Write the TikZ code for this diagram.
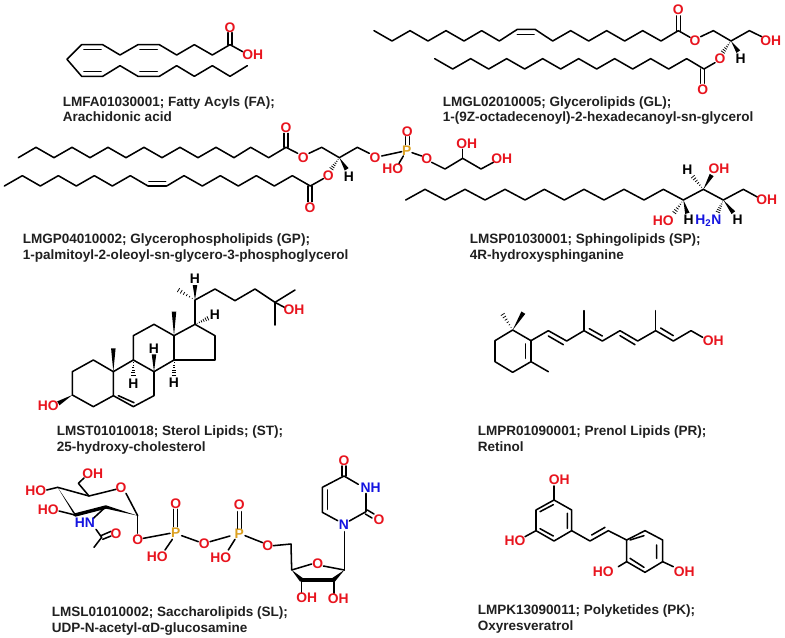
\documentclass[tikz,border=0pt]{standalone}
\usepackage{fontspec}
\setmainfont{Liberation Sans}
\usetikzlibrary{calc}
\definecolor{atomred}{HTML}{E8141E}
\definecolor{atomblue}{HTML}{1414E0}
\definecolor{atomgold}{HTML}{DCA020}
\definecolor{capcol}{HTML}{202020}
\newcount\labn
\tikzset{
  zm/.style n args={2}{shift={(#1,#2)},x=.25pt,y=-.25pt},
  atom/.style={font=\fontsize{10.4}{12}\selectfont\bfseries,inner sep=0pt,text=atomred},
  ath/.style={atom,text=black},
  atn/.style={atom,text=atomblue},
  atp/.style={atom,text=atomgold},
  captext/.style={anchor=base west,inner sep=0pt,text=capcol,font=\fontsize{10.15}{12}\selectfont\bfseries}
}
% labels
\newcommand\lab[3][atom]{\global\advance\labn by 1 \node[#1] (L\the\labn) at (#2) {#3};}
% bold wedge from narrow end #1 to wide end #2
\newcommand\wdg[2]{\fill (#1) -- ($(#2)!1.7pt!90:(#1)$) -- ($(#2)!1.7pt!-90:(#1)$) -- cycle;}
% hashed wedge
\newcommand\hsh[2]{\foreach \t [evaluate=\t as \d using \t*1.9] in {.15,.3,.45,.6,.75,.9,1}{
  \draw[line width=.55pt,line cap=butt] ($(#1)!\t!(#2)!\d pt!90:(#2)$) -- ($(#1)!\t!(#2)!\d pt!-90:(#2)$);}}
\begin{document}
\begin{tikzpicture}[x=.75pt,y=-.75pt,line width=1.15pt,line cap=round,line join=round]
\useasboundingbox (0,0) rectangle (785,638);
\fill[white] (0,0) rectangle (785,638);
% ---------- captions
\node[captext] (c1a) at (62,106.5) {LMFA01030001; Fatty Acyls (FA);};
\node[captext] (c1b) at (62,122) {Arachidonic acid};
\node[captext] (c2a) at (442,106.5) {LMGL02010005; Glycerolipids (GL);};
\node[captext] (c2b) at (442,122) {1-(9Z-octadecenoyl)-2-hexadecanoyl-sn-glycerol};
\node[captext] (c3a) at (22,243.5) {LMGP04010002; Glycerophospholipids (GP);};
\node[captext] (c3b) at (22,259) {1-palmitoyl-2-oleoyl-sn-glycero-3-phosphoglycerol};
\node[captext] (c4a) at (469,243) {LMSP01030001; Sphingolipids (SP);};
\node[captext] (c4b) at (469,259) {4R-hydroxysphinganine};
\node[captext] (c5a) at (56,435) {LMST01010018; Sterol Lipids; (ST);};
\node[captext] (c5b) at (56,451) {25-hydroxy-cholesterol};
\node[captext] (c6a) at (477,435) {LMPR01090001; Prenol Lipids (PR);};
\node[captext] (c6b) at (477,451) {Retinol};
\node[captext] (c7a) at (51,616) {LMSL01010002; Saccharolipids (SL);};
\node[captext] (c7b) at (51,632) {UDP-N-acetyl-αD-glucosamine};
\node[captext] (c8a) at (477,614) {LMPK13090011; Polyketides (PK);};
\node[captext] (c8b) at (477,630) {Oxyresveratrol};
% ---------- FA
\begin{scope}[zm={0}{0}]
\draw (728,155)--(690,134)--(637,165)--(583,134)--(530,165)--(478,134)--(414,134)--(360,165)--(308,134)--(245,134)--(201,178)--(245,229)--(308,229)--(360,197)--(414,229)--(478,229)--(530,197)--(583,229)--(637,197)--(690,229)--(742,197);
\draw (252,148)--(303,148) (420,148)--(472,148) (252,214)--(303,214) (420,214)--(472,214);
\draw (684,134)--(684,98) (696,134)--(696,98);
\lab{690,82}{O}\lab{758,165}{OH}
\end{scope}
% ---------- GL
\begin{scope}[zm={360}{0}]
\draw (42,92)--(96,123)--(150,92)--(204,123)--(258,92)--(312,123)--(365,92)--(418,123)--(472,88)--(525,88)--(578,123)--(632,92)--(686,123)--(740,92)--(794,123)--(848,92)--(903,123)--(955,92)--(990,112);
\draw (472,103)--(522,103);
\draw (949,92)--(949,48) (961,92)--(961,48);
\draw (1022,110)--(1060,92)--(1113,123)--(1168,92)--(1205,110);
\draw (224,176)--(278,207)--(332,176)--(386,207)--(440,176)--(494,207)--(548,176)--(602,207)--(656,176)--(710,207)--(764,176)--(818,207)--(872,176)--(926,207)--(980,176)--(1032,207)--(1065,188);
\draw (1022,207)--(1022,250) (1034,207)--(1034,250);
\hsh{1113,123}{1086,160}
\wdg{1113,123}{1135,155}
\lab{955,30}{O}\lab{1005,122}{O}\lab{1232,122}{OH}\lab{1080,176}{O}\lab[ath]{1142,175}{H}\lab{1028,268}{O}
\end{scope}
% ---------- GP
\begin{scope}[zm={0}{120}]
\draw (55,113)--(108,82)--(162,113)--(216,82)--(270,113)--(324,82)--(378,113)--(432,82)--(486,113)--(540,82)--(594,113)--(648,82)--(702,113)--(752,82)--(806,113)--(858,82)--(893,100);
\draw (852,82)--(852,40) (864,82)--(864,40);
\draw (927,100)--(965,82)--(1018,113)--(1072,82)--(1108,100);
\draw (1145,108)--(1205,95);
\draw (13,198)--(67,167)--(121,198)--(175,167)--(229,198)--(283,167)--(337,198)--(391,167)--(444,198)--(500,198)--(552,167)--(607,198)--(661,167)--(715,198)--(769,167)--(823,198)--(877,167)--(931,198)--(970,176);
\draw (447,184)--(497,184);
\draw (924,198)--(924,245) (936,198)--(936,245);
\hsh{1018,113}{992,150}
\wdg{1018,113}{1040,148}
\lab{858,22}{O}\lab{910,112}{O}\lab{1125,112}{O}\lab{985,167}{O}\lab[ath]{1047,170}{H}\lab{930,262}{O}
\end{scope}
% ---------- phosphoglycerol & sphingo
\begin{scope}[zm={400}{130}]
\lab[atp]{20,62}{P}
\draw (16,44)--(16,20) (28,44)--(28,20);
\draw (36,68)--(65,78);
\draw (95,97)--(135,117)--(188,85)--(243,117)--(280,97);
\draw (188,85)--(188,58);
\lab{22,6}{O}\lab{80,85}{O}\lab{200,40}{OH}\lab{305,85}{OH}
\lab{-22,115}{HO}
\draw (10,78)--(-3,100);
\draw (17,210)--(75,178)--(135,210)--(195,178)--(255,210)--(315,178)--(375,210)--(433,178)--(493,210)--(552,178)--(612,210)--(672,178)--(732,210)--(790,178)--(850,210)--(910,178)--(970,210)--(1030,178)--(1072,201);
\hsh{850,210}{820,252}
\wdg{850,210}{862,250}
\hsh{910,178}{875,136}
\wdg{910,178}{935,135}
\hsh{970,210}{952,250}
\wdg{970,210}{1000,248}
\lab[ath]{862,118}{H}\lab{957,117}{OH}\lab{790,272}{HO}\lab[ath]{866,270}{H}\lab[atn]{925,272}{H\textsubscript{2}N}\lab[ath]{1013,268}{H}\lab{1100,210}{OH}
\end{scope}
% ---------- sterol
\begin{scope}[zm={20}{265}]
\draw (157,390)--(157,320)--(220,285)--(280,320)--(280,392)--(220,425)--(157,390);
\draw (280,320)--(340,285)--(402,320)--(402,392)--(340,425)--(280,392);
\draw (295,392)--(342,413);
\draw (340,285)--(340,212)--(402,178)--(462,212)--(462,285)--(402,320);
\draw (462,212)--(525,178)--(585,212)--(585,285)--(462,285);
\wdg{280,320}{280,250}
\wdg{462,212}{462,140}
\draw (525,178)--(525,105)--(585,72)--(645,107)--(705,72)--(765,112)--(825,75);
\draw (765,112)--(765,180) (765,112)--(795,128);
\wdg{525,105}{525,60}
\hsh{525,105}{470,72}
\hsh{525,178}{568,158}
\hsh{340,285}{340,335}
\wdg{402,320}{402,268}
\hsh{462,285}{462,335}
\wdg{157,390}{115,415}
\lab[ath]{525,40}{H}\lab[ath]{585,150}{H}\lab{822,133}{OH}\lab[ath]{402,250}{H}\lab[ath]{340,355}{H}\lab[ath]{462,352}{H}\lab{85,423}{HO}
\end{scope}
% ---------- retinol
\begin{scope}[zm={480}{270}]
\draw (98,180)--(153,212)--(153,275)--(98,307)--(45,275)--(45,212)--cycle;
\draw (137,222)--(137,265);
\wdg{98,180}{130,128}
\hsh{98,180}{65,128}
\draw (153,275)--(205,305);
\draw (153,212)--(205,182)--(260,213)--(312,182)--(367,213)--(420,182)--(473,213)--(527,182)--(580,213)--(633,182)--(668,202);
\draw (312,182)--(312,122) (527,182)--(527,122);
\draw (205,198)--(250,224) (328,176)--(367,198) (420,197)--(465,224) (542,174)--(580,197);
\lab{700,213}{OH}
\end{scope}
% ---------- sugar
\begin{scope}[zm={10}{450}]
\draw (143,112)--(237,138)--(318,118);
\draw (348,130)--(383,197);
\fill (383,197)--(288,166)--(288,176)--cycle;
\draw[line width=2.6pt] (288,171)--(195,195);
\fill (143,112)--(190,190)--(200,197)--cycle;
\draw (237,138)--(205,100)--(222,84);
\draw (143,112)--(110,120) (195,195)--(147,183);
\draw (288,170)--(250,205);
\draw (258,238)--(275,262)--(252,292);
\draw (275,256)--(303,244) (278,268)--(303,258);
\draw (383,197)--(383,250);
\draw (400,265)--(480,250) (515,257)--(565,275) (600,275)--(660,258);
\draw (491,230)--(491,178) (503,230)--(503,178);
\draw (487,268)--(465,300);
\lab{333,113}{O}\lab{248,72}{OH}\lab{77,123}{HO}\lab{115,180}{HO}\lab[atn]{225,217}{HN}\lab{318,252}{O}\lab{383,268}{O}\lab[atp]{497,247}{P}\lab{497,162}{O}\lab{442,320}{HO}\lab{583,282}{O}
\end{scope}
\begin{scope}[zm={210}{450}]
\lab[atp]{88,250}{P}\lab{88,165}{O}\lab{32,322}{HO}\lab{173,287}{O}
\draw (82,235)--(82,185) (94,235)--(94,185);
\draw (75,268)--(55,300);
\draw (105,257)--(158,278);
\draw (190,287)--(243,282)--(245,360)--(305,342);
\draw (340,348)--(403,360);
\wdg{403,360}{370,390}
\draw[line width=2.6pt] (370,390)--(275,390);
\wdg{245,360}{275,390}
\draw (275,390)--(275,428) (372,390)--(372,430);
\draw (403,360)--(403,245);
\draw (383,212)--(337,187)--(337,112)--(402,78)--(445,103);
\draw (352,120)--(352,178);
\draw (396,78)--(396,48) (408,78)--(408,48);
\draw (468,130)--(468,185)--(418,213);
\draw (472,180)--(492,192) (466,192)--(486,204);
\lab{323,340}{O}\lab{290,443}{OH}\lab{385,447}{OH}\lab[atn]{402,225}{N}\lab{402,32}{O}\lab[atn]{482,112}{NH}\lab{507,210}{O}
\end{scope}
% ---------- polyketide
\begin{scope}[zm={490}{460}]
\draw (192,120)--(245,150)--(245,212)--(192,243)--(138,212)--(138,150)--cycle;
\draw (150,155)--(190,134) (232,160)--(232,205) (190,228)--(150,206);
\draw (245,212)--(300,243)--(355,212)--(410,240);
\draw (305,225)--(345,202);
\draw (410,240)--(465,212)--(518,240)--(518,305)--(465,337)--(410,305)--cycle;
\draw (420,240)--(462,227) (500,255)--(500,295) (420,295)--(462,322);
\draw (192,120)--(192,78) (138,212)--(105,230) (410,305)--(385,320) (518,305)--(550,320);
\lab{208,58}{OH}\lab{75,243}{HO}\lab{340,335}{HO}\lab{583,335}{OH}
\end{scope}
\end{tikzpicture}
\end{document}
